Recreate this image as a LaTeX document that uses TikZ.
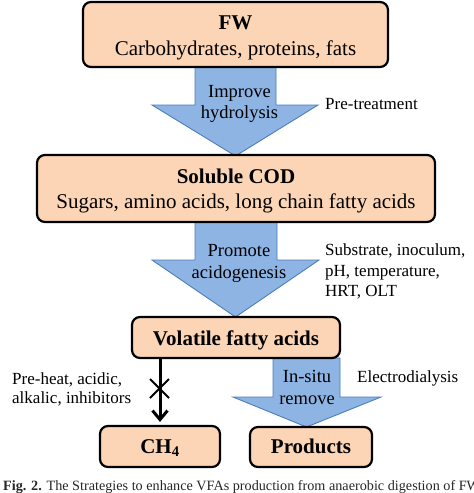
\documentclass[tikz,border=0pt]{standalone}
\usepackage{fontspec}
\setmainfont{Liberation Serif}
\usetikzlibrary{arrows.meta}
\definecolor{peach}{HTML}{FBD5B5}
\definecolor{bluefill}{HTML}{8EB4E3}
\definecolor{blueline}{HTML}{4A7EBB}
\tikzset{
  box/.style={draw=black, line width=2.2pt, fill=peach, rounded corners=8pt, inner sep=0pt},
  blockarrow/.style={draw=blueline, line width=0.9pt, fill=bluefill, line join=miter},
  boldtxt/.style={font=\fontsize{21}{24}\selectfont\bfseries, anchor=base, inner sep=0pt},
  bigtxt/.style={font=\fontsize{21}{24}\selectfont, anchor=base, inner sep=0pt},
  arrtxt/.style={font=\fontsize{18.5}{22}\selectfont, anchor=base, inner sep=0pt},
  sidetxt/.style={font=\fontsize{17}{20}\selectfont, anchor=base west, inner sep=0pt},
}
\begin{document}
\begin{tikzpicture}[x=1pt,y=-1pt]
\useasboundingbox (0,0) rectangle (474,493);
% block arrows (drawn first, boxes on top)
\draw[blockarrow] (195,67) -- (276,67) -- (276,105) -- (318,105) -- (235.5,156) -- (152,105) -- (195,105) -- cycle;
\draw[blockarrow] (195,222) -- (277,222) -- (277,260) -- (319,260) -- (235.5,317) -- (152,260) -- (195,260) -- cycle;
\draw[blockarrow] (273,358) -- (340,358) -- (340,397) -- (381,397) -- (306.5,427) -- (233,397) -- (273,397) -- cycle;
% boxes
\node[box, minimum width=305pt, minimum height=65pt] (fw) at (235.5,34.5) {};
\node[box, minimum width=398pt, minimum height=67pt] (cod) at (236,188.5) {};
\node[box, minimum width=208pt, minimum height=41pt] (vfa) at (236,337.5) {};
\node[box, minimum width=120pt, minimum height=41pt] (ch4) at (160,446.5) {};
\node[box, minimum width=122pt, minimum height=40pt] (prod) at (311,447) {};
% box texts
\node[boldtxt] (fwt) at (235.5,29) {FW};
\node[bigtxt] (fwd) at (235.5,55) {Carbohydrates, proteins, fats};
\node[boldtxt] (codt) at (236,183) {Soluble COD};
\node[bigtxt] (codd) at (236,208) {Sugars, amino acids, long chain fatty acids};
\node[boldtxt] (vfat) at (236,345) {Volatile fatty acids};
\node[boldtxt] (ch4t) at (160,453) {CH\textsubscript{4}};
\node[boldtxt] (prodt) at (311,453) {Products};
% arrow texts
\node[arrtxt] (a1a) at (239.5,97) {Improve};
\node[arrtxt] (a1b) at (239.5,118) {hydrolysis};
\node[arrtxt] (a2a) at (239,256) {Promote};
\node[arrtxt] (a2b) at (239,278) {acidogenesis};
\node[arrtxt] (a3a) at (307,382) {In-situ};
\node[arrtxt] (a3b) at (307,404) {remove};
% side texts
\node[sidetxt] (s1) at (325,109) {Pre-treatment};
\node[sidetxt] (s2a) at (325,255) {Substrate, inoculum,};
\node[sidetxt] (s2b) at (325,276) {pH, temperature,};
\node[sidetxt] (s2c) at (325,296) {HRT, OLT};
\node[sidetxt] (s3a) at (12,384) {Pre-heat, acidic,};
\node[sidetxt] (s3b) at (12,403) {alkalic, inhibitors};
\node[sidetxt] (s4) at (357,382) {Electrodialysis};
% blocked arrow to CH4
\draw[line width=3pt, shorten >=3pt, -{Straight Barb[length=9pt,width=15pt,line width=3pt]}] (vfa.south -| ch4.north) -- (ch4.north);
\coordinate (xc) at (159.5,388.5);
\draw[line width=2pt] ([shift={(-9.5,-9.5)}]xc) -- ([shift={(9.5,9.5)}]xc);
\draw[line width=2pt] ([shift={(-9.5,9.5)}]xc) -- ([shift={(9.5,-9.5)}]xc);
% caption (cropped by the page edge, as in the reference)
\node[anchor=base west, inner sep=0pt, font=\fontsize{14.2}{16}\selectfont, text=black!85] (cap) at (3,490.5) {\textbf{Fig. 2.} The Strategies to enhance VFAs production from anaerobic digestion of FW};
\end{tikzpicture}
\end{document}
